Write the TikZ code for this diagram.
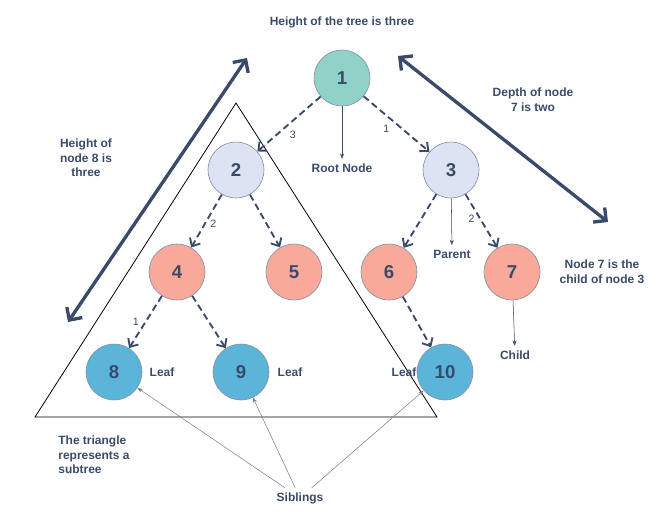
\documentclass[tikz,border=0pt]{standalone}
\usepackage{fontspec}
\setmainfont{Liberation Sans}
\usetikzlibrary{arrows.meta}
\definecolor{navy}{HTML}{3A4A6B}
\definecolor{teal1}{HTML}{8FD3C8}
\definecolor{lav}{HTML}{DDE3F3}
\definecolor{salmon}{HTML}{F8A99A}
\definecolor{sky}{HTML}{5BB5D9}
\begin{document}
\begin{tikzpicture}[x=0.0264cm,y=-0.0264cm,font=\bfseries\fontsize{9}{11}\selectfont,text=navy,
  tnode/.style={circle,draw=navy!60,line width=0.5pt,minimum size=42pt,inner sep=0pt,font=\bfseries\fontsize{14}{14}\selectfont},
  edge/.style={dashed,navy,line width=1.4pt,dash pattern=on 5pt off 3pt,-{Straight Barb[length=5pt,width=9pt]}},
  thin/.style={navy,line width=0.4pt,-{Stealth[length=4pt]}},
  big/.style={navy,line width=2.5pt,{Straight Barb[length=7pt,width=14pt]}-{Straight Barb[length=7pt,width=14pt]}},
  note/.style={align=center}]
\useasboundingbox (0,0) rectangle (665,524);
% subtree triangle
\coordinate (ta) at (236,103);
\coordinate (tl) at (35,417);
\coordinate (tr) at (437,417);
\draw[line width=0.6pt] (ta) -- (tl) -- (tr) -- cycle;
% tree nodes
\node[tnode,fill=teal1] (n1) at (342,78) {1};
\node[tnode,fill=lav] (n2) at (236,170) {2};
\node[tnode,fill=lav] (n3) at (451,170) {3};
\node[tnode,fill=salmon] (n4) at (177,272) {4};
\node[tnode,fill=salmon] (n5) at (294,272) {5};
\node[tnode,fill=salmon] (n6) at (389,272) {6};
\node[tnode,fill=salmon] (n7) at (512,272) {7};
\node[tnode,fill=sky] (n8) at (114,372) {8};
\node[tnode,fill=sky] (n9) at (241,372) {9};
\node[tnode,fill=sky] (n10) at (445,372) {10};
% edges
\draw[edge] (n1) -- node[pos=0.55,below right=-1pt,font=\fontsize{8}{8}\selectfont] {3} (n2);
\draw[edge] (n1) -- node[pos=0.45,below left=-1pt,font=\fontsize{8}{8}\selectfont] {1} (n3);
\draw[edge] (n2) -- node[pos=0.55,right,font=\fontsize{8}{8}\selectfont] {2} (n4);
\draw[edge] (n2) -- (n5);
\draw[edge] (n3) -- (n6);
\draw[edge] (n3) -- node[pos=0.45,left,font=\fontsize{8}{8}\selectfont] {2} (n7);
\draw[edge] (n4) -- node[pos=0.5,left=1pt,font=\fontsize{8}{8}\selectfont] {1} (n8);
\draw[edge] (n4) -- (n9);
\draw[edge] (n6) -- (n10);
% labels
\node (root) at (342,168) {Root Node};
\node (parent) at (452,254) {Parent};
\node (child) at (515,355) {Child};
\draw[thin] (n1) -- (root);
\draw[thin] (n3) -- (parent);
\draw[thin] (n7) -- (child);
\node (leaf8) at (162,372) {Leaf};
\node (leaf9) at (290,372) {Leaf};
\node (leaf10) at (404,372) {Leaf};
\node (title) at (342,22) {Height of the tree is three};
\node[note] (depth) at (533,100) {Depth of node\\7 is two};
\node[note] (height8) at (86,158) {Height of\\node 8 is\\three};
\node[note] (childof) at (602,272) {Node 7 is the\\child of node 3};
\node[note,align=left] (tri) at (94,455) {The triangle\\represents a\\subtree};
\node (sib) at (300,498) {Siblings};
\draw[navy!70,line width=0.4pt,-{Stealth[length=4pt]}] (sib) -- (n8);
\draw[navy!70,line width=0.4pt,-{Stealth[length=4pt]}] (sib) -- (n9);
\draw[navy!70,line width=0.4pt,-{Stealth[length=4pt]}] (sib) -- (n10);
% height and depth arrows
\coordinate (h1) at (68,322);
\coordinate (h2) at (247,58);
\coordinate (d1) at (398,56);
\coordinate (d2) at (608,222);
\draw[big] (h1) -- (h2);
\draw[big] (d1) -- (d2);
\end{tikzpicture}
\end{document}
